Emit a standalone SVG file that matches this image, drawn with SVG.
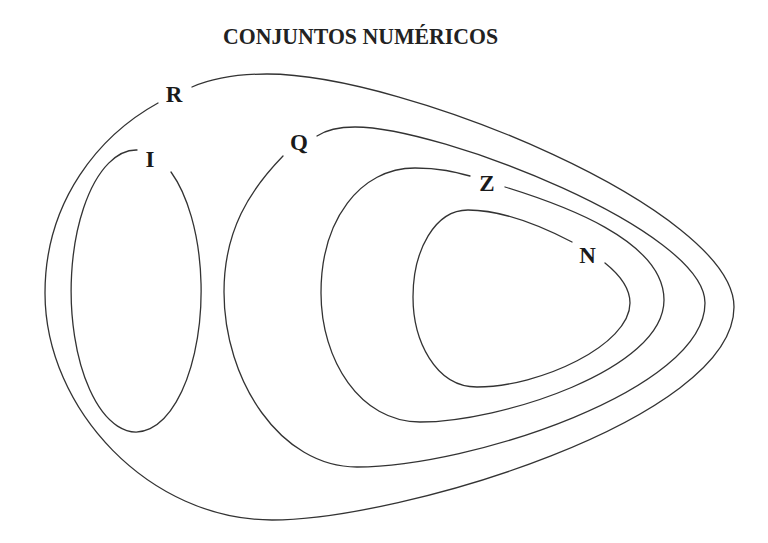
<svg xmlns="http://www.w3.org/2000/svg" width="768" height="543" viewBox="0 0 768 543">
<style>
.set{fill:none;stroke:#333;stroke-width:1.3;stroke-linecap:round}
.lbl{font-family:"Liberation Serif","Times New Roman",serif;font-weight:bold;font-size:23px;fill:#1a1a1a;text-anchor:middle}
.title{font-family:"Liberation Serif","Times New Roman",serif;font-weight:bold;font-size:23.5px;fill:#222;text-anchor:middle}
</style>
<rect width="768" height="543" fill="#fff"/>
<text class="title" x="360.5" y="43.5" textLength="275" lengthAdjust="spacingAndGlyphs">CONJUNTOS NUMÉRICOS</text>
<g id="set-R">
<path class="set" d="M192,87 C215,77 240,74 267,74 C405,74 734,210 734,307 C734,420 400,520 272,520 C150,520 45,410 45,293 C45,200 100,135 158,103"/>
<text class="lbl" x="174" y="102">R</text>
</g>
<g id="set-I">
<path class="set" d="M171,172 A65,141 0 1 1 137,150"/>
<text class="lbl" x="150" y="167">I</text>
</g>
<g id="set-Q">
<path class="set" d="M317,136 C329,128 343,127 355,127 C440,127 705,230 705,303 C705,390 470,467 357,467 C280,467 224,380 224,292 C224,230 250,190 283,156"/>
<text class="lbl" x="299" y="150">Q</text>
</g>
<g id="set-Z">
<path class="set" d="M505,187 C560,204 664,240 664,300 C664,370 500,422 420,422 C360,422 321,360 321,293 C321,220 360,168 415,168 C440,168 455,172 470,176"/>
<text class="lbl" x="487" y="191">Z</text>
</g>
<g id="set-N">
<path class="set" d="M605,263 C620,275 630,288 630,303 C630,345 540,387 477,387 C435,387 413,340 413,297 C413,250 435,210 468,210 C505,210 545,228 572,242"/>
<text class="lbl" x="587.5" y="263">N</text>
</g>
<g id="connectors"></g>
</svg>
